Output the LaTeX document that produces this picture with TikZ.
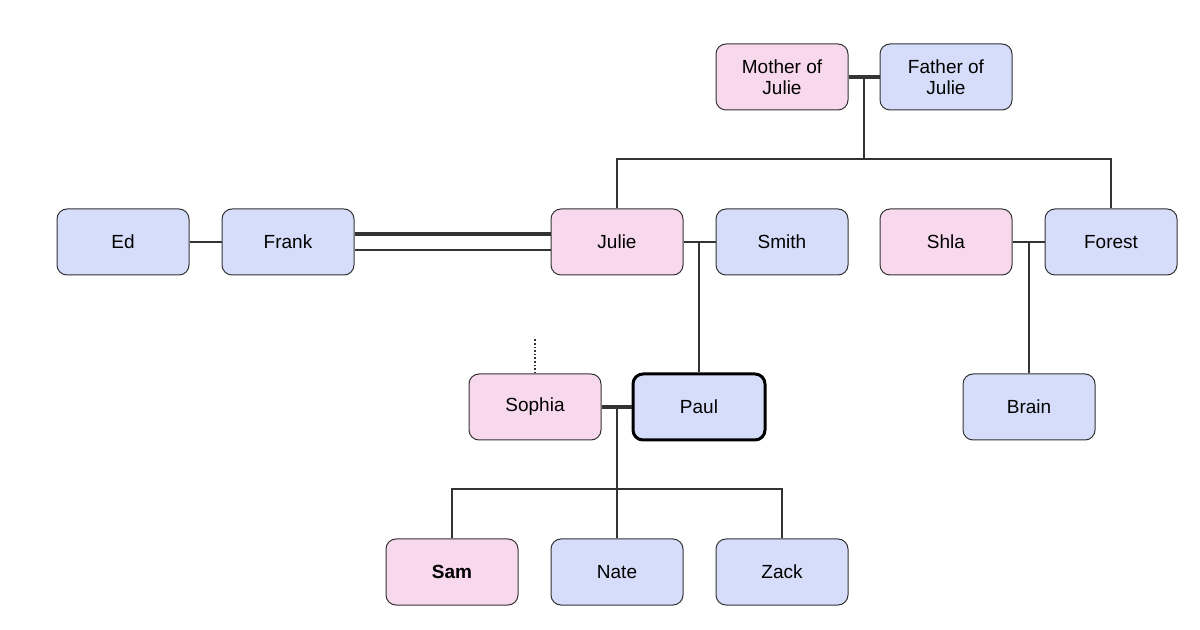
\documentclass[tikz,border=0pt]{standalone}
\usepackage{fontspec}
\setmainfont{Liberation Sans}
\definecolor{pinkf}{HTML}{F8D8EC}
\definecolor{bluef}{HTML}{D6DDFA}
\definecolor{ln}{HTML}{333333}
\begin{document}
\begin{tikzpicture}[x=0.5pt,y=-0.5pt,
 person/.style={draw=black!80,rounded corners=5pt,minimum width=66pt,minimum height=33pt,align=center,font=\fontsize{9.5}{10.5}\selectfont,line width=0.5pt},
 fem/.style={person,fill=pinkf}, mal/.style={person,fill=bluef},
 rel/.style={draw=ln,line width=1pt}, marr/.style={draw=ln,line width=2pt}]
\useasboundingbox (0,0) rectangle (1200,630);
\node[fem] (mo) at (782,77) {Mother of\\Julie};
\node[mal] (fa) at (946,77) {Father of\\Julie};
\node[mal] (ed) at (123,242) {Ed};
\node[mal] (fr) at (288,242) {Frank};
\node[fem] (ju) at (617,242) {Julie};
\node[mal] (sm) at (782,242) {Smith};
\node[fem] (sh) at (946,242) {Shla};
\node[mal] (fo) at (1111,242) {Forest};
\node[fem] (so) at (535,407) {Sophia};
\node[mal,line width=1.5pt,draw=black] (pa) at (699,407) {Paul};
\node[mal] (br) at (1029,407) {Brain};
\node[fem] (sa) at (452,572) {\textbf{Sam}};
\node[mal] (na) at (617,572) {Nate};
\node[mal] (za) at (782,572) {Zack};
\coordinate (c1) at (864,77);
\coordinate (c2) at (699,242);
\coordinate (c3) at (1029,242);
\coordinate (c4) at (617,407);
\draw[marr] (mo) -- (fa);
\draw[rel] (c1) -- (864,159) -| (ju.north);
\draw[rel] (864,159) -| (fo.north);
\draw[rel] (ed) -- (fr);
\draw[rel] ([yshift=-4pt]fr.east) -- ([yshift=-4pt]ju.west);
\draw[marr] ([yshift=4pt]fr.east) -- ([yshift=4pt]ju.west);
\draw[rel] (ju) -- (sm);
\draw[rel] (c2) -- (pa.north);
\draw[rel] (sh) -- (fo);
\draw[rel] (c3) -- (br.north);
\draw[marr] (so) -- (pa);
\draw[rel] (c4) -- (617,489) -| (sa.north);
\draw[rel] (617,489) -| (za.north);
\draw[rel] (617,489) -- (na.north);
\draw[densely dotted,line width=0.8pt,draw=ln] (so.north) -- ++(0,-34);
\end{tikzpicture}
\end{document}
